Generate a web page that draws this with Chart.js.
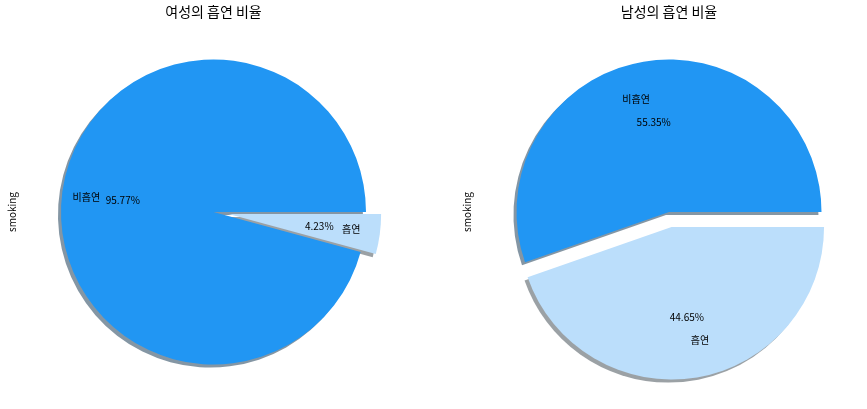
<!DOCTYPE html>
<html>
<head>
<meta charset="utf-8">
<script src="https://cdn.jsdelivr.net/npm/chart.js@4/dist/chart.umd.min.js"></script>
<style>
body { margin: 0; background: #fff; }
#wrap { position: relative; width: 867px; height: 409px; }
.pane { position: absolute; top: 0; height: 409px; }
</style>
</head>
<body>
<div id="wrap">
  <div class="pane" style="left:0;width:434px"><canvas id="cnvFemale"></canvas></div>
  <div class="pane" style="left:434px;width:433px"><canvas id="cnvMale"></canvas></div>
</div>
<script>
/**
 * DATA
 */
const categories = ['비흡연', '흡연'];
const femaleValues = [95.77, 4.23];
const maleValues = [55.35, 44.65];
const chartTitles = ['여성의 흡연 비율', '남성의 흡연 비율'];
const yLabelText = 'smoking';

const FONT = "'Noto Sans CJK KR', 'Noto Sans', sans-serif";
const faceColors = ['#2196F3', '#BBDEFB'];
const explode = [0, 0.1];

/**
 * matplotlib style shadow colour: 0.3 * face, alpha 0.5
 */
function ShadowColor(hex) {
    let r = parseInt(hex.substr(1, 2), 16) * 0.3;
    let g = parseInt(hex.substr(3, 2), 16) * 0.3;
    let b = parseInt(hex.substr(5, 2), 16) * 0.3;
    return `rgba(${r.toFixed(0)}, ${g.toFixed(0)}, ${b.toFixed(0)}, 0.5)`;
}

function ExplodeShift(arc, amount) {
    let mid = (arc.startAngle + arc.endAngle) / 2;
    let d = amount * arc.outerRadius;
    return { x: Math.cos(mid) * d, y: Math.sin(mid) * d };
}

/**
 * draws shadows, exploded wedges, wedge labels and the y label
 */
const pieStylePlugin = {
    id: 'pieStyle',
    beforeDatasetDraw(chart, args, opts) {
        const ctx = chart.ctx;
        const arcs = args.meta.data;
        // shadows go below every wedge
        arcs.forEach((arc, i) => {
            let s = ExplodeShift(arc, opts.explode[i]);
            let dx = -opts.shadow * arc.outerRadius;
            let dy = opts.shadow * arc.outerRadius;
            ctx.save();
            ctx.fillStyle = opts.shadowColors[i];
            ctx.beginPath();
            ctx.moveTo(arc.x + s.x + dx, arc.y + s.y + dy);
            ctx.arc(arc.x + s.x + dx, arc.y + s.y + dy, arc.outerRadius, arc.startAngle, arc.endAngle);
            ctx.closePath();
            ctx.fill();
            ctx.restore();
        });
        arcs.forEach((arc, i) => {
            let s = ExplodeShift(arc, opts.explode[i]);
            ctx.save();
            ctx.translate(s.x, s.y);
            arc.draw(ctx);
            ctx.restore();
        });
        return false;
    },
    afterDraw(chart, args, opts) {
        const ctx = chart.ctx;
        const meta = chart.getDatasetMeta(0);
        const values = chart.data.datasets[0].data;
        const total = values.reduce((a, b) => a + b, 0);
        ctx.save();
        ctx.fillStyle = '#000';
        ctx.font = `10px ${FONT}`;
        ctx.textBaseline = 'middle';
        meta.data.forEach((arc, i) => {
            let s = ExplodeShift(arc, opts.explode[i]);
            let mid = (arc.startAngle + arc.endAngle) / 2;
            let r = arc.outerRadius;
            let cx = arc.x + s.x;
            let cy = arc.y + s.y;
            // category label
            let lx = cx + Math.cos(mid) * r * opts.labelDistance;
            let ly = cy + Math.sin(mid) * r * opts.labelDistance;
            ctx.textAlign = Math.cos(mid) < 0 ? 'right' : 'left';
            ctx.fillText(chart.data.labels[i], lx, ly);
            // percentage
            let px = cx + Math.cos(mid) * r * opts.pctDistance;
            let py = cy + Math.sin(mid) * r * opts.pctDistance;
            ctx.textAlign = 'center';
            ctx.fillText((values[i] / total * 100).toFixed(2) + '%', px, py);
        });
        // y label
        let arc0 = meta.data[0];
        ctx.translate(arc0.x - arc0.outerRadius - 49, arc0.y);
        ctx.rotate(-Math.PI / 2);
        ctx.textAlign = 'center';
        ctx.fillText(yLabelText, 0, 0);
        ctx.restore();
    }
};

/**
 * creates one pie; data reversed because Chart.js runs clockwise
 */
function CreatePie(canvasId, values, title, padLeft, padRight) {
    let labels = categories.slice().reverse();
    let data = values.slice().reverse();
    let colors = faceColors.slice().reverse();
    return new Chart(document.querySelector(canvasId), {
        type: 'pie',
        data: {
            labels: labels,
            datasets: [{
                data: data,
                backgroundColor: colors,
                borderWidth: 0
            }]
        },
        options: {
            responsive: true,
            maintainAspectRatio: false,
            animation: false,
            events: [],
            rotation: 90,
            radius: 152.5,
            layout: { padding: { left: padLeft, right: padRight, top: 0, bottom: 4.8 } },
            plugins: {
                legend: { display: false },
                tooltip: { enabled: false },
                title: {
                    display: true,
                    text: title,
                    color: '#000',
                    font: { family: FONT, size: 14, weight: 'normal' },
                    padding: { top: 3, bottom: 0 }
                },
                pieStyle: {
                    explode: explode.slice().reverse(),
                    shadowColors: colors.map(ShadowColor),
                    shadow: 0.02,
                    labelDistance: 0.75,
                    pctDistance: 0.6
                }
            }
        },
        plugins: [pieStylePlugin]
    });
}

CreatePie('#cnvFemale', femaleValues, chartTitles[0], 0, 7);
CreatePie('#cnvMale', maleValues, chartTitles[1], 37, 0);
</script>
</body>
</html>
